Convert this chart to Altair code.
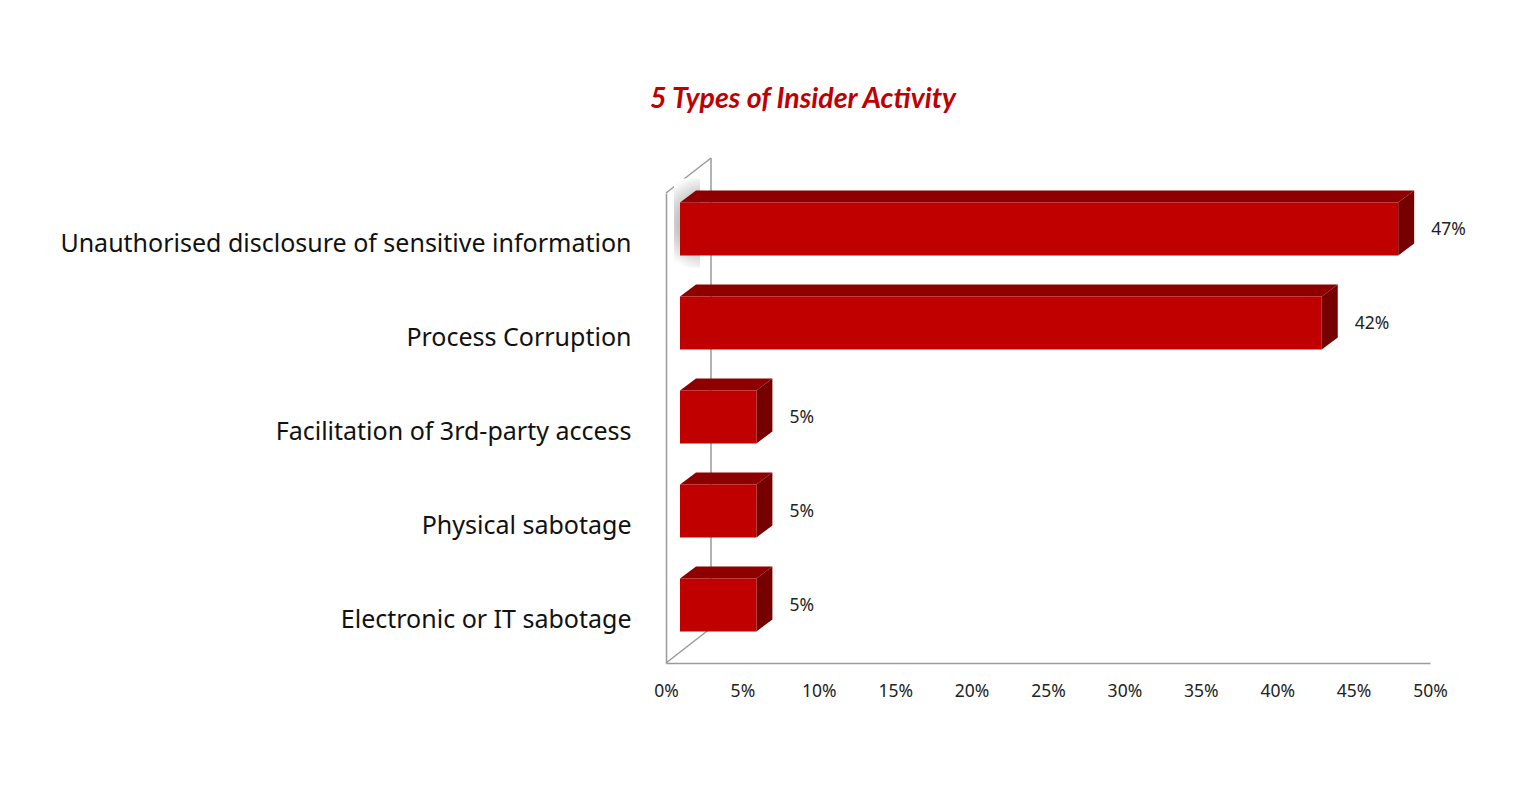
import json
import altair as alt
import pandas as pd

# ---- data ----
categories = [
    "Unauthorised disclosure of sensitive information",
    "Process Corruption",
    "Facilitation of 3rd-party access",
    "Physical sabotage",
    "Electronic or IT sabotage",
]
values = [47, 42, 5, 5, 5]
value_labels = ["47%", "42%", "5%", "5%", "5%"]
x_ticks = [0, 5, 10, 15, 20, 25, 30, 35, 40, 45, 50]
title_text = "5 Types of Insider Activity"

# ---- style / geometry (pixels) ----
W, H = 764, 470
X_MAX = 50
N = len(categories)
PX_X = W / X_MAX          # px per percent
PX_Y = H / N              # px per band
FRONT_DX, FRONT_DY = 14, 11   # bar front plane offset inside the 3D box
DEPTH_DX, DEPTH_DY = 16, 12   # bar extrusion depth
BAR_H = 53
WALL_DX, WALL_DY = 45, 35     # depth of the 3D box
SHADOW_PAD = 12

FRONT = "#C00000"
TOP = "#8E0000"
SIDE = "#760000"
FRAME = "#9a9a9a"
FONT = "Noto Sans"
TITLE_FONT = "Lato"

fx0 = FRONT_DX / PX_X
dx = DEPTH_DX / PX_X
dy = DEPTH_DY / PX_Y
half = BAR_H / 2 / PX_Y
shift = FRONT_DY / PX_Y

front_rows, top_rows, side_rows = [], [], []
for i, (c, v, lab) in enumerate(zip(categories, values, value_labels)):
    yc = i + 0.5 - shift
    yt, yb = yc - half, yc + half
    front_rows.append(dict(cat=c, idx=i, x=fx0, x2=v + fx0, y=yt, y2=yb, yc=yc, label=lab))
    top_rows.append(dict(cat=c, y=yt, x=fx0, x2=v + fx0))
    top_rows.append(dict(cat=c, y=yt - dy, x=fx0 + dx, x2=v + fx0 + dx))
    side_rows.append(dict(cat=c, x=v + fx0, y=yt, y2=yb))
    side_rows.append(dict(cat=c, x=v + fx0 + dx, y=yt - dy, y2=yb - dy))

front_df = pd.DataFrame(front_rows)
top_df = pd.DataFrame(top_rows)
side_df = pd.DataFrame(side_rows)

# soft shadow of the first bar on the back wall
r0 = front_rows[0]
shadow_df = pd.DataFrame([dict(
    x=r0["x"] - 6 / PX_X, x2=r0["x"] + dx + 4 / PX_X,
    y=r0["y"] - dy - SHADOW_PAD / PX_Y, y2=r0["y2"] + SHADOW_PAD / PX_Y,
)])

wx = WALL_DX / PX_X
wy = WALL_DY / PX_Y
frame_df = pd.DataFrame([
    dict(x=wx, y=-wy, x2=wx, y2=N - wy),
    dict(x=0, y=0, x2=wx, y2=-wy),
    dict(x=0, y=N, x2=wx, y2=N - wy),
])

xscale = alt.Scale(domain=[0, X_MAX], nice=False, zero=False)
yscale = alt.Scale(domain=[0, N], nice=False, zero=False, reverse=True)

label_expr = json.dumps(categories) + "[floor(datum.value)]"

x_axis = alt.Axis(
    values=x_ticks, labelExpr="datum.value + '%'", title=None, grid=False,
    ticks=False, domainColor=FRAME, domainWidth=1.5, labelFont=FONT,
    labelFontSize=17.5, labelColor="#222222", labelPadding=19, labelFlush=False,
)
y_axis = alt.Axis(
    values=[i + 0.5 for i in range(N)], labelExpr=label_expr, title=None,
    grid=False, ticks=False, domainColor=FRAME, domainWidth=1.5,
    labelFont=FONT, labelFontSize=25, labelColor="#111111", labelPadding=35,
    labelLimit=700, labelOffset=3,
)

frame = alt.Chart(frame_df).mark_rule(color=FRAME, strokeWidth=1.5).encode(
    x=alt.X("x:Q", scale=xscale, axis=x_axis),
    y=alt.Y("y:Q", scale=yscale, axis=y_axis),
    x2="x2:Q", y2="y2:Q",
)

shadow = alt.Chart(shadow_df).mark_rect(
    color=alt.RadialGradient(
        gradient="radial", x1=0.7, y1=0.5, x2=0.7, y2=0.5, r1=0, r2=0.55,
        stops=[
            alt.GradientStop(color="#9a9a9a", offset=0),
            alt.GradientStop(color="#c4c4c4", offset=0.55),
            alt.GradientStop(color="#ffffff", offset=1),
        ],
    ),
).encode(
    x=alt.X("x:Q", scale=xscale), x2="x2:Q",
    y=alt.Y("y:Q", scale=yscale), y2="y2:Q",
)

top = alt.Chart(top_df).mark_area(orient="horizontal", color=TOP).encode(
    y=alt.Y("y:Q", scale=yscale),
    x=alt.X("x:Q", scale=xscale, stack=None),
    x2="x2:Q",
    detail="cat:N",
)

side = alt.Chart(side_df).mark_area(orient="vertical", color=SIDE).encode(
    x=alt.X("x:Q", scale=xscale),
    y=alt.Y("y:Q", scale=yscale, stack=None),
    y2="y2:Q",
    detail="cat:N",
)

front = alt.Chart(front_df).mark_bar(color=FRONT).encode(
    x=alt.X("x:Q", scale=xscale),
    x2="x2:Q",
    y=alt.Y("y:Q", scale=yscale),
    y2="y2:Q",
)

labels = alt.Chart(front_df).mark_text(
    align="left", baseline="middle", dx=33, dy=1, font=FONT, fontSize=17.5, color="#222222"
).encode(
    x=alt.X("x2:Q", scale=xscale),
    y=alt.Y("yc:Q", scale=yscale),
    text="label:N",
)

chart = alt.layer(frame, shadow, top, side, front, labels).properties(
    width=W, height=H,
    title=alt.Title(
        title_text, font=TITLE_FONT, fontSize=28.5, fontStyle="italic", fontWeight="bold",
        color=FRONT, anchor="middle", dx=-245, offset=44, frame="group",
    ),
    autosize=alt.AutoSizeParams(type="none"),
    padding={"left": 658, "top": 185, "right": 90, "bottom": 90},
).configure_view(stroke=None)

chart.save("out.html", embed_options={"renderer": "svg", "actions": False})
